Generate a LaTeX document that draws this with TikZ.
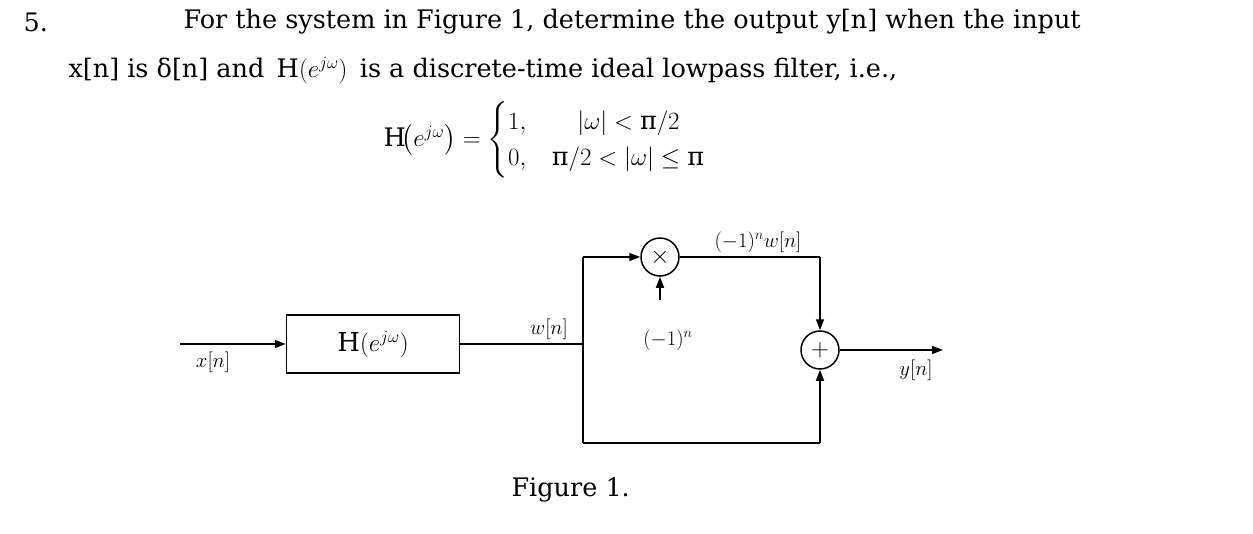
\documentclass[tikz,border=0pt]{standalone}
\usepackage{amsmath}
\usepackage{amssymb}
\usepackage{fontspec}
\setmainfont{DejaVu Serif}
\usetikzlibrary{arrows.meta}
\tikzset{
  sig/.style={-{Triangle[length=11pt,width=8pt]},line width=1.5pt},
  wire/.style={line width=1.5pt},
  op/.style={shape=circle,draw=black,line width=1.5pt,minimum size=38pt,inner sep=0pt,font=\fontsize{26}{26}\selectfont},
  lbl/.style={font=\fontsize{22}{24}\selectfont},
  txt/.style={font=\fontsize{25.5}{30}\selectfont,anchor=west}
}
\begin{document}
\begin{tikzpicture}[x=1pt,y=-1pt]
    \useasboundingbox (0,0) rectangle (1253,533);
    % problem text
    \node[txt] (num) at (20,22) {5.};
    \node[txt] (l1) at (180,22) {For the system in Figure 1, determine the output y[n] when the input};
    \node[txt] (l2) at (65,70) {x[n] is δ[n] and\, H$(e^{j\omega})$\, is a discrete-time ideal lowpass filter, i.e.,};
    \node[txt] (eq) at (380,140) {H$\!\left(e^{j\omega}\right) = \begin{cases} 1, & \quad|\omega| < \text{π}/2\\ 0, & \text{π}/2 < |\omega| \le \text{π}\end{cases}$};
    % block diagram
    \node[draw=black,line width=1.5pt,minimum width=173pt,minimum height=58pt,font=\fontsize{26}{26}\selectfont] (h) at (373,344) {H$(e^{j\omega})$};
    \node[op] (mul) at (660,257) {$\times$};
    \node[op] (add) at (820,350) {$+$};
    \coordinate (xin) at (180,344);
    \coordinate (split) at (583,344);
    \coordinate (top) at (583,257);
    \coordinate (bot) at (583,443);
    \coordinate (botr) at (820,443);
    \coordinate (topr) at (820,257);
    \coordinate (m) at (660,300);
    \coordinate (yout) at (943,350);
    \draw[sig] (xin) -- (h);
    \draw[wire] (h) -- (split);
    \draw[wire] (top) -- (bot);
    \draw[sig] (top) -- (mul);
    \draw[sig] (m) -- (mul);
    \draw[wire] (mul) -- (topr);
    \draw[sig] (topr) -- (add);
    \draw[wire] (bot) -- (botr);
    \draw[sig] (botr) -- (add);
    \draw[sig] (add) -- (yout);
    \node[lbl] (xl) at (213,362) {$x[n]$};
    \node[lbl] (wl) at (549,329) {$w[n]$};
    \node[lbl] (ml) at (668,340) {$(-1)^n$};
    \node[lbl] (pl) at (758,242) {$(-1)^n w[n]$};
    \node[lbl] (yl) at (916,370) {$y[n]$};
    \node[txt] (fig) at (508,490) {Figure 1.};
\end{tikzpicture}
\end{document}
